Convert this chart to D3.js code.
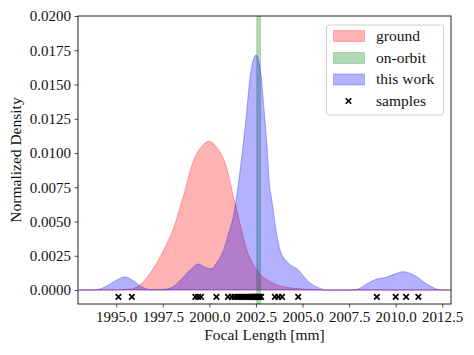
<!DOCTYPE html>
<html><head><meta charset="utf-8">
<script src="https://cdn.jsdelivr.net/npm/d3@7"></script>
<style>body{margin:0;background:#fff}svg{display:block}text{font-family:"Liberation Serif","Times New Roman",serif;fill:#111}</style>
</head><body>
<svg id="c" width="474" height="355"></svg>
<script>
// ground density curve
const groundX = [1993.0,1994.0,1995.0,1995.5,1995.93,1996.37,1996.82,1997.36,1997.81,1998.17,1998.43,1998.70,1998.93,1999.24,1999.6,1999.99,2000.4,2000.85,2001.3,2001.6,2002.01,2002.55,2003.26,2004.16,2005.23,2006.0,2008.0,2012.95];
const groundY = [0,0,0.00001,0.00004,0.00012,0.00049,0.00122,0.00243,0.00365,0.00487,0.00608,0.0073,0.00852,0.00973,0.0105,0.01085,0.0104,0.00925,0.0068,0.0051,0.00292,0.00146,0.00061,0.0002,0.00005,0,0,0];
// this work density curve
const workX = [1993.0,1993.9,1994.5,1995.0,1995.45,1995.9,1996.4,1996.9,1997.5,1998.0,1998.5,1999.0,1999.4,1999.7,2000.1,2000.4,2000.76,2001.0,2001.29,2001.56,2001.78,2002.01,2002.19,2002.51,2002.78,2002.94,2003.11,2003.22,2003.35,2003.61,2003.8,2004.25,2004.78,2005.23,2005.94,2006.3,2007.5,2007.9,2008.4,2008.98,2009.5,2010.0,2010.42,2010.8,2011.13,2011.5,2011.85,2012.38,2012.95];
const workY = [0,0.00002,0.0003,0.0007,0.00095,0.0007,0.0002,0.00003,0.00004,0.0002,0.0008,0.0015,0.0019,0.0017,0.00155,0.002,0.0029,0.004,0.0054,0.0078,0.0102,0.0131,0.0156,0.01715,0.0156,0.0131,0.0102,0.0078,0.0066,0.0041,0.0029,0.00195,0.00146,0.00073,0.00012,0,0,0.00003,0.0004,0.0008,0.00093,0.0012,0.00134,0.0012,0.00097,0.0006,0.0003,0.00002,0];
// on-orbit value span
const onOrbit = [2002.545, 2002.74];
// samples
const samples = [1995.12,1995.84,1999.25,1999.4,1999.55,2000.38,2001.0,2001.2,2001.35,2001.5,2001.6,2001.7,2001.8,2001.9,2002.0,2002.1,2002.2,2002.3,2002.35,2002.4,2002.45,2002.5,2002.55,2002.6,2002.65,2002.7,2002.78,2003.52,2003.71,2003.9,2004.77,2008.99,2010.0,2010.56,2011.22];
const sampleLevel = -0.0005;
const xTicks = [1995.0,1997.5,2000.0,2002.5,2005.0,2007.5,2010.0,2012.5];
const yTicks = [0,0.0025,0.005,0.0075,0.01,0.0125,0.015,0.0175,0.02];
const legendLabels = ["ground","on-orbit","this work","samples"];

const svg = d3.select("#c");
const L=78, R=451, T=16, B=304;
const x = d3.scaleLinear().domain([1992.95,2012.97]).range([L,R]);
const y = d3.scaleLinear().domain([-0.00102,0.02]).range([B,T]);

const cRed="rgba(255,0,0,0.3)", cGreen="rgba(0,128,0,0.3)", cBlue="rgba(0,0,255,0.3)";
const clip = svg.append("clipPath").attr("id","pc").append("rect").attr("x",L).attr("y",T).attr("width",R-L).attr("height",B-T);
const g = svg.append("g").attr("clip-path","url(#pc)");

function areaOf(xs, ys){
  const pts = xs.map((v,i)=>[v,ys[i]]);
  return d3.area().x(d=>x(d[0])).y0(y(0)).y1(d=>y(d[1])).curve(d3.curveMonotoneX)(pts);
}
g.append("path").attr("d",areaOf(groundX,groundY)).attr("fill",cRed).attr("stroke",cRed).attr("stroke-width",1);
g.append("rect").attr("x",x(onOrbit[0])).attr("width",x(onOrbit[1])-x(onOrbit[0])).attr("y",T).attr("height",B-T).attr("fill",cGreen).attr("stroke",cGreen).attr("stroke-width",0.8);
g.append("path").attr("d",areaOf(workX,workY)).attr("fill",cBlue).attr("stroke",cBlue).attr("stroke-width",1);

const xm = "M-2.8,-2.8L2.8,2.8M-2.8,2.8L2.8,-2.8";
g.selectAll(".s").data(samples).enter().append("path")
  .attr("d",xm).attr("transform",d=>`translate(${x(d)},${y(sampleLevel)})`)
  .attr("stroke","#000").attr("stroke-width",1.6).attr("fill","none");

// axes
const xa = svg.append("g").attr("transform",`translate(0,${B})`)
  .call(d3.axisBottom(x).tickValues(xTicks).tickFormat(d3.format(".1f")).tickSize(3.5).tickPadding(4));
const ya = svg.append("g").attr("transform",`translate(${L},0)`)
  .call(d3.axisLeft(y).tickValues(yTicks).tickFormat(d3.format(".4f")).tickSize(3.5).tickPadding(3.5));
[xa,ya].forEach(a=>{a.select(".domain").remove();a.selectAll("line").attr("stroke","#222").attr("stroke-width",0.8);
  a.selectAll("text").attr("font-size",15).attr("font-family",null).attr("fill","#111");});
svg.append("rect").attr("x",L).attr("y",T).attr("width",R-L).attr("height",B-T).attr("fill","none").attr("stroke","#222").attr("stroke-width",1);

svg.append("text").attr("x",(L+R)/2).attr("y",340).attr("text-anchor","middle").attr("font-size",15.5).text("Focal Length [mm]");
svg.append("text").attr("transform",`translate(21,${(T+B)/2}) rotate(-90)`).attr("text-anchor","middle").attr("font-size",15.5).text("Normalized Density");

// legend
const lg = svg.append("g");
lg.append("rect").attr("x",326.5).attr("y",25).attr("width",117).attr("height",90).attr("rx",3)
  .attr("fill","rgba(255,255,255,0.8)").attr("stroke","#d0d0d0").attr("stroke-width",1);
const rowsY=[36,58,79.5,101];
const cols=[cRed,cGreen,cBlue];
legendLabels.forEach((t,i)=>{
  if(i<3) lg.append("rect").attr("x",333.5).attr("y",rowsY[i]-5.5).attr("width",31).attr("height",11).attr("fill",cols[i]).attr("stroke",cols[i]).attr("stroke-width",0.8);
  else lg.append("path").attr("d",xm).attr("transform",`translate(348.5,${rowsY[i]})`).attr("stroke","#000").attr("stroke-width",1.6);
  lg.append("text").attr("x",376).attr("y",rowsY[i]).attr("dy","0.32em").attr("font-size",15.5).text(t);
});
</script>
</body></html>
